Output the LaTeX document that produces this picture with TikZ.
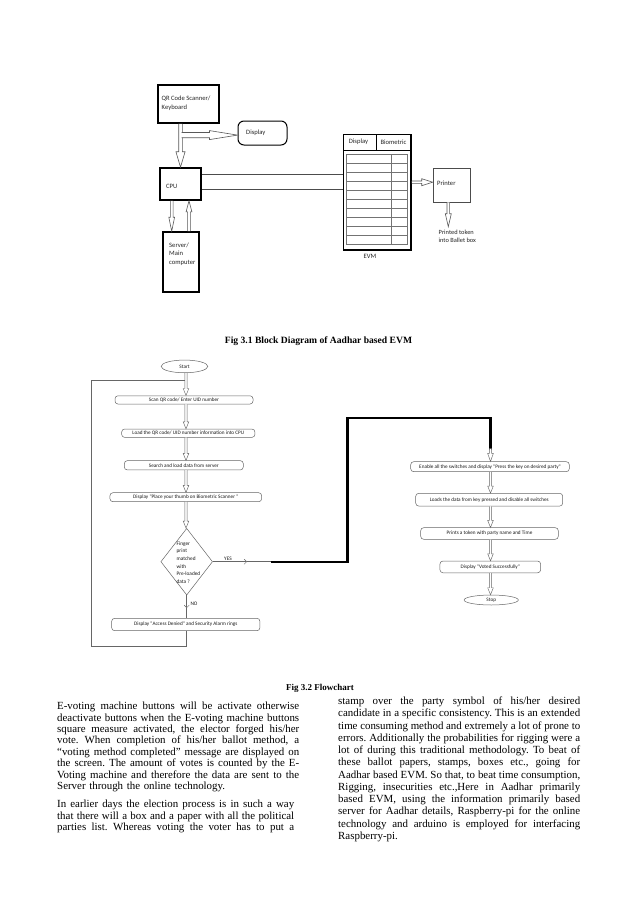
\documentclass[tikz,border=0pt]{standalone}
\usepackage{fontspec}
\setmainfont{Liberation Serif}
\newfontfamily\diagfont{Carlito}
\usetikzlibrary{calc,shapes.geometric,arrows.meta}

% hollow block arrows: #1 start, #2 end, #3 shaft half width, #4 head half width, #5 head length, #6 style
\newcommand{\arrDown}[6]{\draw[#6] ($(#1)+(-#3,0pt)$) -- ($(#1|-#2)+(-#3,#5)$) -- ($(#1|-#2)+(-#4,#5)$) -- (#1|-#2) -- ($(#1|-#2)+(#4,#5)$) -- ($(#1|-#2)+(#3,#5)$) -- ($(#1)+(#3,0pt)$);}
\newcommand{\arrUp}[6]{\draw[#6] ($(#1)+(-#3,0pt)$) -- ($(#1|-#2)+(-#3,-#5)$) -- ($(#1|-#2)+(-#4,-#5)$) -- (#1|-#2) -- ($(#1|-#2)+(#4,-#5)$) -- ($(#1|-#2)+(#3,-#5)$) -- ($(#1)+(#3,0pt)$);}
\newcommand{\arrRight}[6]{\draw[#6] ($(#1)+(0pt,#3)$) -- ($(#1-|#2)+(-#5,#3)$) -- ($(#1-|#2)+(-#5,#4)$) -- (#1-|#2) -- ($(#1-|#2)+(-#5,-#4)$) -- ($(#1-|#2)+(-#5,-#3)$) -- ($(#1)+(0pt,-#3)$);}
% justified line of given width
\newcommand{\jline}[2]{\leavevmode\hbox to #1{\frenchspacing\spaceskip=0.25em plus 3em minus 0.06em\relax #2}}

\begin{document}
\begin{tikzpicture}[x=1pt,y=-1pt,
 thickbox/.style={draw=black,line width=1.6pt,inner sep=0pt},
 dlabel/.style={font=\diagfont\fontsize{6.6}{8.3}\selectfont,inner sep=0pt,align=left,text=black!85},
 blk/.style={draw=black!65,line width=0.6pt,fill=white,line join=miter},
 farr/.style={draw=black!60,line width=0.45pt,fill=white,line join=miter},
 fbox/.style={draw=black!60,line width=0.5pt,rounded corners=3pt,inner sep=0pt,font=\diagfont\fontsize{5.2}{6}\selectfont,text=black!90},
 fell/.style={draw=black!60,line width=0.5pt,ellipse,inner sep=0pt,font=\diagfont\fontsize{5.2}{6}\selectfont,text=black!90},
 fline/.style={draw=black!60,line width=0.5pt},
 flabel/.style={font=\diagfont\fontsize{5.3}{7.7}\selectfont,inner sep=0pt,align=left,text=black!90},
 gridl/.style={draw=black!55,line width=0.45pt},
 body/.style={anchor=north west,inner sep=0pt,align=left},
 caption/.style={font=\bfseries\fontsize{9.6}{11}\selectfont,inner sep=0pt},
]
\useasboundingbox (0,0) rectangle (638,902);
\fill[white] (0,0) rectangle (638,902);

% ===== Block diagram =====
\node[thickbox,minimum width=61pt,minimum height=38pt] (qr) at (188.5,104) {};
\node[dlabel,anchor=west] (qrt) at (161.5,103.2) {QR Code Scanner/\\Keyboard};
\node[draw=black,line width=1pt,rounded corners=6pt,minimum width=49pt,minimum height=24pt,inner sep=0pt] (bdisp) at (262.5,133) {};
\node[dlabel,anchor=west] (bdispt) at (246,133) {Display};
\node[thickbox,minimum width=41pt,minimum height=32pt] (cpu) at (180.5,184) {};
\node[dlabel,anchor=west] (cput) at (166,186) {CPU};
\node[thickbox,minimum width=36pt,minimum height=60pt] (srv) at (181,262) {};
\node[dlabel,anchor=west] (srvt) at (169,254) {Server/\\Main\\computer};
\node[thickbox,minimum width=67.7pt,minimum height=115.7pt] (evm) at (377.2,192.2) {};
\node[dlabel,anchor=center] (evmt) at (370,256) {EVM};
\draw[black,line width=0.9pt] (343.3,150) -- (411,150);
\draw[black,line width=0.9pt] (376,134.3) -- (376,150);
\node[dlabel] (evmd) at (358.5,142) {Display};
\node[dlabel] (evmb) at (393.5,142) {Biometric};
\draw[gridl] (346,154.3) rectangle (407.7,244);
\draw[gridl] (391.7,154.3) -- (391.7,244);
\foreach \i in {1,...,9} {\draw[gridl] (346,{154.3+\i*8.97}) -- (407.7,{154.3+\i*8.97});}
\node[draw=black!70,line width=0.6pt,minimum width=37pt,minimum height=33.7pt,inner sep=0pt] (prn) at (451.5,185.2) {};
\node[dlabel,anchor=west] (prnt) at (437,183.5) {Printer};
\node[dlabel,anchor=west,font=\diagfont\fontsize{6.4}{8}\selectfont] (tok) at (438.5,236.7) {Printed token\\into Ballet box};

% connectors
\coordinate (qa) at ($(qr.south)+(-8pt,0pt)$);
\arrDown{qa}{cpu.north}{1.8pt}{4.6pt}{15.5pt}{blk}
\coordinate (qb) at ($(qa)+(1.2pt,-11.3pt)$);
\arrRight{qb}{bdisp.west}{2.6pt}{4.5pt}{28pt}{blk}
\coordinate (cs) at ($(cpu.south)+(-8.8pt,0pt)$);
\arrDown{cs}{srv.north}{1.4pt}{2.9pt}{14pt}{blk}
\coordinate (sc) at ($(srv.north)+(8pt,0pt)$);
\arrUp{sc}{cpu.south}{1.4pt}{2.9pt}{11pt}{blk}
\coordinate (l1) at ($(cpu.east)+(0pt,11pt)$);
\coordinate (l2) at ($(cpu.east)+(0pt,-4pt)$);
\draw[draw=black!70,line width=0.5pt,double,double distance=2pt] (l1) -- (l1 -| evm.west);
\draw[draw=black!70,line width=0.5pt,double,double distance=2pt] (l2) -- (l2 -| evm.west);
\coordinate (ep) at ($(evm.east)+(0pt,10pt)$);
\arrRight{ep}{prn.west}{1.2pt}{3.5pt}{11pt}{blk}
\coordinate (pd) at ($(prn.south)+(-3.2pt,0pt)$);
\coordinate (ptip) at (448.3,226.7);
\arrDown{pd}{ptip}{1.3pt}{3pt}{13pt}{blk}

\node[caption] (cap1) at (318.5,341) {Fig 3.1 Block Diagram of Aadhar based EVM};

% ===== Flowchart =====
\coordinate (colL) at (186,0);
\coordinate (colR) at (490.5,0);
\node[fell,minimum width=46.7pt,minimum height=12.7pt] (start) at (184.5,366.4) {Start};
\node[fbox,minimum width=138pt,minimum height=8.3pt] (scan) at (184,399.9) {Scan QR code/ Enter UID number};
\node[fbox,minimum width=133.3pt,minimum height=8.3pt] (load) at (188.3,433.2) {Load the QR code/ UID number information into CPU};
\node[fbox,minimum width=119pt,minimum height=9.3pt] (search) at (183.8,465.3) {Search and load data from server};
\node[fbox,minimum width=151.7pt,minimum height=9pt] (fdisp) at (185.8,497.2) {Display "Place your thumb on Biometric Scanner "};
\node[draw=black!60,line width=0.5pt,diamond,minimum width=51.7pt,minimum height=66.7pt,inner sep=0pt] (dia) at (186.7,561.7) {};
\node[flabel,anchor=west] (diat) at (176.5,562.5) {Finger\\print\\matched\\with\\Pre-loaded\\data ?};
\node[fbox,minimum width=148.3pt,minimum height=12.4pt] (denied) at (185.8,624.5) {Display "Access Denied" and Security Alarm rings};

\node[fbox,minimum width=158.6pt,minimum height=10pt] (enable) at (490,466.7) {Enable all the switches and display "Press the key on desired party"};
\node[fbox,minimum width=147pt,minimum height=12.7pt] (loads) at (489.2,499.7) {Loads the data from key pressed and disable all switches};
\node[fbox,minimum width=137.6pt,minimum height=11.6pt] (prints) at (489.5,533.5) {Prints a token with party name and Time};
\node[fbox,minimum width=100.7pt,minimum height=11.7pt] (voted) at (490.3,566.9) {Display "Voted Successfully"};
\node[fell,minimum width=54.3pt,minimum height=10pt] (stop) at (491.2,600) {Stop};

% flow arrows left column
\coordinate (f0) at (start.south -| colL);
\arrDown{f0}{scan.north}{1.2pt}{2.8pt}{7pt}{farr}
\coordinate (f1) at (scan.south -| colL);
\arrDown{f1}{load.north}{1.2pt}{2.8pt}{7pt}{farr}
\coordinate (f2) at (load.south -| colL);
\arrDown{f2}{search.north}{1.2pt}{2.8pt}{7pt}{farr}
\coordinate (f3) at (search.south -| colL);
\arrDown{f3}{fdisp.north}{1.2pt}{2.8pt}{7pt}{farr}
\coordinate (f4) at (fdisp.south -| colL);
\arrDown{f4}{dia.north}{1.2pt}{2.8pt}{7pt}{farr}

% loop back
\coordinate (lp1) at ($(denied.south)+(0pt,-15pt)$);
\coordinate (lpx) at (91.7,0);
\coordinate (lpy) at (0,380);
\draw[fline] (denied.south) -- (lp1) -- (lp1 -| lpx) -- (lpy -| lpx) -- ($(lpy -| colL)+(-1.2pt,0pt)$);

% NO branch
\coordinate (nom) at (186.7,608);
\draw[fline,-{Straight Barb[length=2.5pt,width=5pt]}] (dia.south) -- (nom);
\draw[fline] (nom) -- (nom |- denied.north);
\node[flabel,anchor=west] (nolab) at (190.3,603.3) {NO};

% YES branch
\coordinate (yesm) at (247,561.7);
\coordinate (yesend) at (271.7,561.7);
\draw[fline,-{Straight Barb[length=2.5pt,width=5pt]}] (dia.east) -- (yesm);
\draw[fline] (yesm) -- (yesend);
\node[flabel] (yeslab) at (228,558.5) {YES};
\coordinate (tk1) at (347.5,561.7);
\coordinate (tk2) at (347.5,418);
\coordinate (tk4) at (490.5,450);
\draw[black,line width=2.4pt,line join=miter] ($(yesend)+(-1pt,0pt)$) -- (tk1) -- (tk2) -- (tk2 -| tk4) -- (tk4);
\coordinate (tk5) at (490.5,448.5);
\arrDown{tk5}{enable.north}{1.2pt}{2.8pt}{8pt}{farr}

% flow arrows right column
\coordinate (g1) at (enable.south -| colR);
\arrDown{g1}{loads.north}{1.2pt}{2.8pt}{7pt}{farr}
\coordinate (g2) at (loads.south -| colR);
\arrDown{g2}{prints.north}{1.2pt}{2.8pt}{7pt}{farr}
\coordinate (g3) at (prints.south -| colR);
\arrDown{g3}{voted.north}{1.2pt}{2.8pt}{7pt}{farr}
\coordinate (g4) at (voted.south -| colR);
\arrDown{g4}{stop.north}{1.2pt}{2.8pt}{7pt}{farr}

\node[caption,font=\bfseries\fontsize{9}{11}\selectfont] (cap2) at (320,688) {Fig 3.2 Flowchart};

% ===== Body text =====
\node[body,text width=242pt,font=\fontsize{10.9}{11.43}\selectfont] (p1) at (57,701.9) {\noindent
\jline{242pt}{E-voting machine buttons will be activate otherwise}\\
\jline{242pt}{deactivate buttons when the E-voting machine buttons}\\
\jline{242pt}{square measure activated, the elector forged his/her}\\
\jline{242pt}{vote. When completion of his/her ballot method, a}\\
\jline{242pt}{“voting method completed” message are displayed on}\\
\jline{242pt}{the screen. The amount of votes is counted by the E-}\\
\jline{242pt}{Voting machine and therefore the data are sent to the}\\
Server through the online technology.};

\node[body,text width=237pt,font=\fontsize{10.9}{11.43}\selectfont] (p2) at (57,799.9) {\noindent
\jline{237pt}{In earlier days the election process is in such a way}\\
\jline{237pt}{that there will a box and a paper with all the political}\\
\jline{237pt}{parties list. Whereas voting the voter has to put a}};

\node[body,text width=242pt,font=\fontsize{10.9}{12.27}\selectfont] (p3) at (338,696.6) {\noindent
\jline{242pt}{stamp over the party symbol of his/her desired}\\
\jline{242pt}{candidate in a specific consistency. This is an extended}\\
\jline{242pt}{time consuming method and extremely a lot of prone to}\\
\jline{242pt}{errors. Additionally the probabilities for rigging were a}\\
\jline{242pt}{lot of during this traditional methodology. To beat of}\\
\jline{242pt}{these ballot papers, stamps, boxes etc., going for}\\
\jline{242pt}{Aadhar based EVM. So that, to beat time consumption,}\\
\jline{242pt}{Rigging, insecurities etc.,Here in Aadhar primarily}\\
\jline{242pt}{based EVM, using the information primarily based}\\
\jline{242pt}{server for Aadhar details, Raspberry-pi for the online}\\
\jline{242pt}{technology and arduino is employed for interfacing}\\
Raspberry-pi.};
\end{tikzpicture}
\end{document}
